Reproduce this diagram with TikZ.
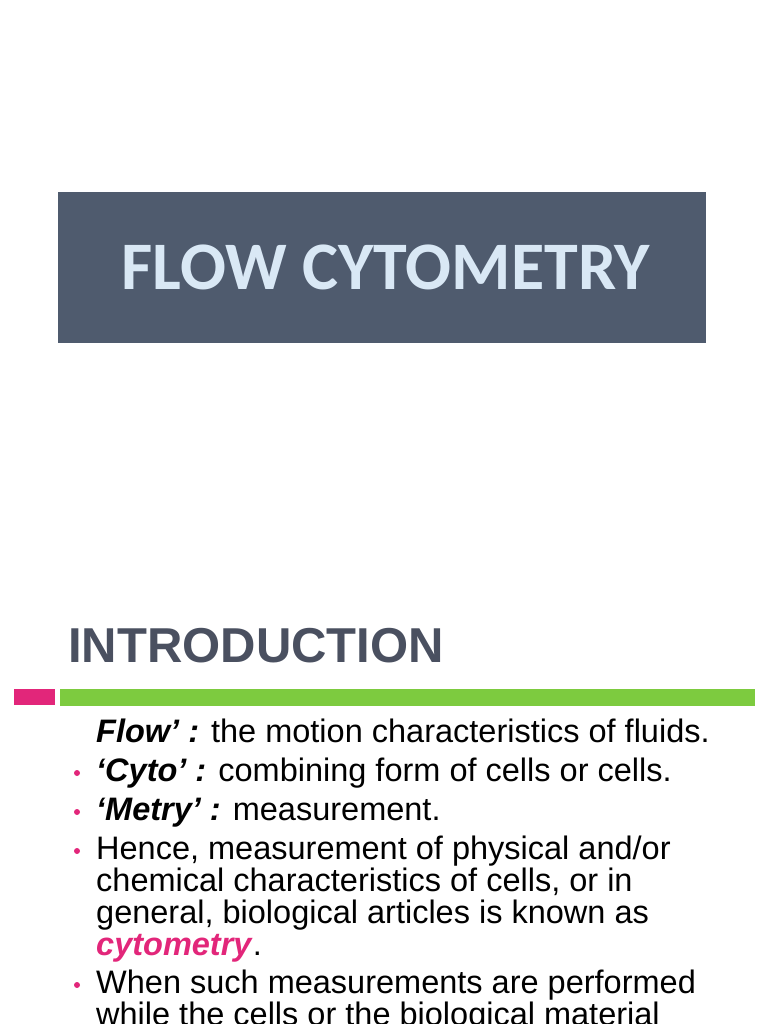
\documentclass[tikz,border=0pt]{standalone}
\usepackage{fontspec}
\setmainfont{Liberation Sans}
\newfontfamily\titlefont{Carlito}
\definecolor{boxc}{HTML}{4F5B6E}
\definecolor{titc}{HTML}{D9E8F5}
\definecolor{pinkc}{HTML}{E2267A}
\definecolor{greenc}{HTML}{7DCB3F}
\definecolor{headc}{HTML}{4A5060}
\begin{document}
\begin{tikzpicture}[x=1pt,y=-1pt,
  body/.style={anchor=base west,inner sep=0pt,font=\fontsize{32.5}{34}\selectfont,text=black},
  dot/.style={circle,fill=pinkc,inner sep=0pt,minimum size=6pt}]
\useasboundingbox (0,0) rectangle (768,1024);
\clip (0,0) rectangle (768,1024);
\fill[boxc] (58,192) rectangle (706,343);
\node[text=titc,font=\titlefont\bfseries\fontsize{68}{70}\selectfont] (title) at (386,267) {FLOW CYTOMETRY};
\node[anchor=base west,inner sep=0pt,text=headc,font=\bfseries\fontsize{49}{55}\selectfont] (intro) at (68,662) {INTRODUCTION};
\fill[pinkc] (14,689) rectangle (55,705);
\fill[greenc] (60,689) rectangle (755,706);
\node[body] (l1) at (96,742) {\textbf{\textit{Flow' :}} the motion characteristics of fluids.};
\node[body] (l2) at (96,781) {\textbf{\textit{‘Cyto' :}} combining form of cells or cells.};
\node[body] (l3) at (96,820) {\textbf{\textit{‘Metry' :}} measurement.};
\node[body] (l4) at (96,859) {Hence, measurement of physical and/or};
\node[body] (l5) at (96,891) {chemical characteristics of cells, or in};
\node[body] (l6) at (96,923) {general, biological articles is known as};
\node[body] (l7) at (96,955) {\textcolor{pinkc}{\textbf{\textit{cytometry}}}.};
\node[body] (l8) at (96,993) {When such measurements are performed};
\node[body] (l9) at (96,1025) {while the cells or the biological material};
\foreach \y in {773,812,851,985} \node[dot] at (77,\y) {};
\end{tikzpicture}
\end{document}
